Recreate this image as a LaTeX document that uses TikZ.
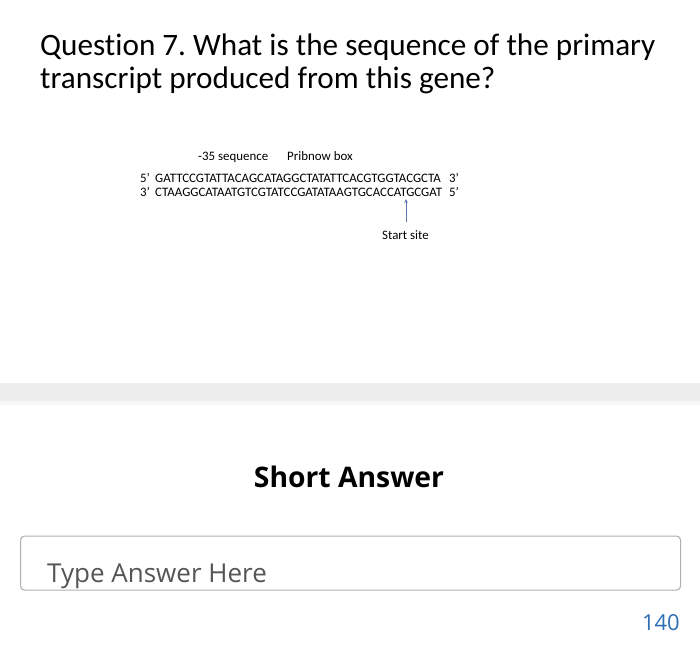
\documentclass[tikz,border=0pt]{standalone}
\usepackage{fontspec}
\setmainfont[Ligatures={NoCommon}]{Carlito}
\newfontfamily\opensans{Open Sans}
\usetikzlibrary{arrows.meta}
\definecolor{bandgray}{HTML}{EDEDED}
\definecolor{boxgray}{HTML}{B0B0B0}
\definecolor{hintgray}{HTML}{555555}
\definecolor{countblue}{HTML}{2F6DB5}
\definecolor{arrowblue}{HTML}{5A78B0}
\tikzset{
  txt/.style={inner sep=0pt, anchor=base west},
  title/.style={txt, font=\fontsize{31.2}{31.2}\selectfont},
  seq/.style={txt, font=\fontsize{12.9}{12.9}\selectfont},
  lbl/.style={txt, font=\fontsize{12.9}{12.9}\selectfont},
}
\frenchspacing
\begin{document}
\begin{tikzpicture}[x=1pt,y=-1pt]
\useasboundingbox[fill=white] (0,0) rectangle (700,662);
% title
\node[title] (t1) at (40,55) {Question 7. What is the sequence of the primary};
\node[title] (t2) at (40,88) {transcript produced from this gene?};
% DNA labels
\node[lbl] (m35) at (198,160) {-35 sequence};
\node[lbl] (prib) at (287,160) {Pribnow box};
\node[seq] (p5a) at (140,182) {5’};
\node[seq] (s1) at (155,182) {GATTCCGTATTACAGCATAGGCTATATTCACGTGGTACGCTA};
\node[seq] (p3a) at (449,182) {3’};
\node[seq] (p3b) at (140,196) {3’};
\node[seq] (s2) at (155,196) {CTAAGGCATAATGTCGTATCCGATATAAGTGCACCATGCGAT};
\node[seq] (p5b) at (449,196) {5’};
\node[lbl] (start) at (382,239) {Start site};
\coordinate (atail) at (406,222);
\coordinate (ahead) at (406,199);
\draw[arrowblue, line width=0.7pt, -{Stealth[length=4pt,width=3.5pt]}] (atail) -- (ahead);
% band
\fill[white!97!black] (0,401) rectangle (700,405);
\fill[bandgray] (0,383) rectangle (700,401);
% short answer
\node[inner sep=0pt, anchor=base, font=\opensans\bfseries\fontsize{28.3}{28.3}\selectfont] (sa) at (349,487) {Short Answer};
\node[draw=boxgray, line width=1.1pt, rounded corners=4pt, minimum width=660pt, minimum height=54pt, anchor=north west, inner sep=0pt] (box) at (20,535.5) {};
\node[txt, font=\opensans\fontsize{26}{26}\selectfont, text=hintgray] (hint) at (47,582) {Type Answer Here};
\node[inner sep=0pt, anchor=base east, font=\opensans\fontsize{22}{22}\selectfont, text=countblue] (cnt) at (680,630) {140};
\end{tikzpicture}
\end{document}
